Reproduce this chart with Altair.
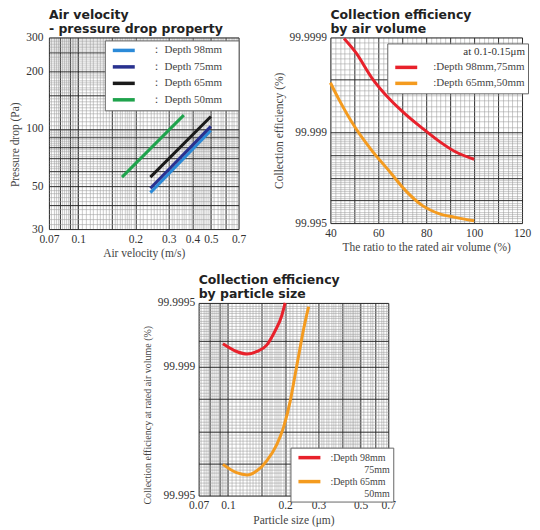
import altair as alt
import pandas as pd

# ---------------- data ----------------
# Chart 1: Air velocity - pressure drop
c1_names = ["Depth 98mm", "Depth 75mm", "Depth 65mm", "Depth 50mm"]
c1_colors = ["#2b8ad8", "#28318f", "#1a1a1a", "#1fa34c"]
c1_vel_98 = [0.24, 0.50]
c1_dp_98 = [46.5, 98]
c1_vel_75 = [0.24, 0.50]
c1_dp_75 = [49, 103]
c1_vel_65 = [0.24, 0.50]
c1_dp_65 = [56, 116]
c1_vel_50 = [0.17, 0.36]
c1_dp_50 = [56, 118]

# Chart 2: Collection efficiency by air volume (at 0.1-0.15 um)
c2_names = ["Depth 98mm,75mm", "Depth 65mm,50mm"]
c2_colors = ["#e8212b", "#f49b1f"]
c2_ratio_a = [45.7, 50.5, 57.5, 64.5, 71.4, 78.3, 85.3, 92.2, 100]
c2_eff_a = [99.99989, 99.99976, 99.99951, 99.99932, 99.99917, 99.99904, 99.99861, 99.99814, 99.99781]
c2_ratio_b = [40, 43.6, 50.5, 57.5, 64.5, 71.4, 78.3, 85.3, 92.2, 100]
c2_eff_b = [99.99947, 99.99931, 99.99904, 99.99817, 99.99730, 99.99643, 99.99578, 99.99542, 99.99525, 99.99510]

# Chart 3: Collection efficiency by particle size
c3_names = ["Depth 98mm|75mm", "Depth 65mm|50mm"]
c3_colors = ["#e8212b", "#f49b1f"]
c3_size_a = [0.094, 0.111, 0.126, 0.142, 0.160, 0.177, 0.192, 0.200]
c3_eff_a = [99.99918, 99.99912, 99.99910, 99.99912, 99.99917, 99.99928, 99.99940, 99.99950]
c3_size_b = [0.094, 0.111, 0.126, 0.142, 0.160, 0.181, 0.196, 0.213, 0.226, 0.238, 0.250, 0.266]
c3_eff_b = [99.99597, 99.99571, 99.99564, 99.99577, 99.99608, 99.99659, 99.99711, 99.99794,
            99.99876, 99.99912, 99.99929, 99.99947]

# tick labels
log_x_labels_1 = [0.07, 0.1, 0.2, 0.3, 0.4, 0.5, 0.7]
log_x_labels_3 = [0.07, 0.1, 0.2, 0.3, 0.5, 0.7]
dp_labels = [30, 50, 100, 200, 300]
ratio_labels = [40, 60, 80, 100, 120]
eff2_labels = [99.995, 99.999, 99.9999]
eff3_labels = [99.995, 99.999, 99.9995]

SERIF = "Liberation Serif"


def steps(a, b, s, nd):
    out = []
    k = 0
    while True:
        v = round(a + k * s, nd)
        if v > b + s / 10:
            break
        out.append(v)
        k += 1
    return out


def uniq(vals):
    return sorted(set(vals))


def js(vals):
    return "[" + ",".join(repr(v) for v in vals) + "]"


def grid_axis(values, majors, labels, fmt, title, title_size=11.5, **kw):
    return alt.Axis(
        values=values,
        title=title,
        ticks=False,
        tickSize=0,
        domain=False,
        labelOverlap=False,
        labelFlush=False,
        format=fmt,
        labelExpr=f"indexof({js(labels)}, datum.value) >= 0 ? datum.label : ''",
        gridColor={"condition": {"test": f"indexof({js(majors)}, datum.value) >= 0", "value": "#2a2a2a"},
                   "value": "#9c9c9c"},
        gridWidth={"condition": {"test": f"indexof({js(majors)}, datum.value) >= 0", "value": 1},
                   "value": 0.55},
        gridOpacity=1,
        labelFont=SERIF,
        labelFontSize=11.5,
        labelColor="#333",
        titleFont=SERIF,
        titleFontSize=title_size,
        titleFontWeight="normal",
        titleColor="#444",
        **kw,
    )


# grid values
logx_grid = uniq(steps(0.07, 0.1, 0.002, 4) + steps(0.1, 0.2, 0.005, 4) + steps(0.2, 0.5, 0.01, 4)
                 + steps(0.5, 0.7, 0.02, 4))
logx_major = [0.07, 0.08, 0.09, 0.1, 0.15, 0.2, 0.3, 0.4, 0.5, 0.6, 0.7]
dp_grid = uniq(steps(30, 100, 2, 2) + steps(100, 300, 5, 2))
dp_major = [30, 40, 50, 60, 70, 80, 90, 100, 150, 200, 250, 300]
ratio_grid = steps(40, 120, 2, 2)
ratio_major = [40, 50, 60, 70, 80, 90, 100, 110, 120]
eff2_grid = uniq(steps(99.995, 99.999, 0.0001, 5) + steps(99.999, 99.9999, 0.00005, 6))
eff2_major = [99.995, 99.996, 99.997, 99.998, 99.999, 99.9995, 99.9999]
eff3_grid = uniq(steps(99.995, 99.999, 0.0001, 5) + steps(99.999, 99.9995, 0.00002, 6))
eff3_major = [99.995, 99.996, 99.997, 99.998, 99.999, 99.9992, 99.9995]

# ---------------- tables ----------------
df1 = pd.concat([
    pd.DataFrame({"v": c1_vel_98, "dp": c1_dp_98, "s": c1_names[0]}),
    pd.DataFrame({"v": c1_vel_75, "dp": c1_dp_75, "s": c1_names[1]}),
    pd.DataFrame({"v": c1_vel_65, "dp": c1_dp_65, "s": c1_names[2]}),
    pd.DataFrame({"v": c1_vel_50, "dp": c1_dp_50, "s": c1_names[3]}),
])
df2 = pd.concat([
    pd.DataFrame({"r": c2_ratio_a, "e": c2_eff_a, "s": c2_names[0]}),
    pd.DataFrame({"r": c2_ratio_b, "e": c2_eff_b, "s": c2_names[1]}),
])
df3 = pd.concat([
    pd.DataFrame({"p": c3_size_a, "e": c3_eff_a, "s": c3_names[0]}),
    pd.DataFrame({"p": c3_size_b, "e": c3_eff_b, "s": c3_names[1]}),
])

title_style = dict(font="DejaVu Sans", fontSize=12.5, fontWeight="bold", color="#222",
                   anchor="start", frame="group", lineHeight=14, offset=-4)


def legend_style(label_size=11, label_offset=20):
    return dict(orient="none", symbolType="M-2.2,0L2.2,0", symbolStrokeWidth=3.5, symbolSize=100,
                symbolOffset=9, labelOffset=label_offset,
                labelFont=SERIF, labelFontSize=label_size, labelColor="#444", fillColor="white",
                strokeColor="#666", padding=3, titleFont=SERIF, titleFontSize=11,
                titleFontWeight="normal", titleColor="#333")


EM = "\u2003"
THIN = "\u2009"
ZW = "\u200b"

c1 = alt.Chart(df1).mark_line(strokeWidth=3).encode(
    x=alt.X("v:Q", scale=alt.Scale(type="log", domain=[0.07, 0.7], nice=False),
            axis=grid_axis(logx_grid, logx_major, log_x_labels_1, "~g", "Air velocity (m/s)",
                           labelPadding=4, titlePadding=3)),
    y=alt.Y("dp:Q", scale=alt.Scale(type="log", domain=[30, 300], nice=False),
            axis=grid_axis(dp_grid, dp_major, dp_labels, "~g", "Pressure drop (Pa)",
                           labelPadding=6, titlePadding=5, titleY=107)),
    color=alt.Color("s:N", sort=c1_names, scale=alt.Scale(domain=c1_names, range=c1_colors),
                    legend=alt.Legend(title=None, legendX=56, legendY=3, rowPadding=2.5,
                                      labelExpr=f"'\uff1a Depth ' + replace(datum.label, 'Depth ', '') + '{EM}{THIN}{ZW}'",
                                      **legend_style())),
).properties(width=190, height=192,
             title=alt.Title(["Air velocity", "- pressure drop property"], **title_style))

c2 = alt.Chart(df2).mark_line(strokeWidth=3, interpolate="monotone").encode(
    x=alt.X("r:Q", scale=alt.Scale(domain=[40, 120], nice=False, zero=False),
            axis=grid_axis(ratio_grid, ratio_major, ratio_labels, "~g",
                           "The ratio to the rated air volume (%)", labelPadding=4, titlePadding=3)),
    y=alt.Y("e:Q", scale=alt.Scale(domain=[99.995, 99.999, 99.9999], range=[186, 95, 0], zero=False, nice=False),
            axis=grid_axis(eff2_grid, eff2_major, eff2_labels, ".4~f", "Collection efficiency (%)",
                           labelPadding=4, titlePadding=5)),
    color=alt.Color("s:N", sort=c2_names, scale=alt.Scale(domain=c2_names, range=c2_colors),
                    legend=alt.Legend(title="at 0.1-0.15\u03bcm", titleAnchor="end", titlePadding=3,
                                      legendX=57, legendY=6, rowPadding=2,
                                      labelExpr="':' + datum.label",
                                      **legend_style())),
).properties(width=192, height=186,
             title=alt.Title(["Collection efficiency", "by air volume"], **title_style))

c3 = alt.Chart(df3).mark_line(strokeWidth=3, interpolate="monotone").encode(
    x=alt.X("p:Q", scale=alt.Scale(type="log", domain=[0.07, 0.7], nice=False),
            axis=grid_axis(logx_grid, logx_major, log_x_labels_3, "~g", "Particle size (\u03bcm)",
                           labelPadding=4, titlePadding=3)),
    y=alt.Y("e:Q", scale=alt.Scale(domain=[99.995, 99.999, 99.9995], range=[193, 64, 0], zero=False, nice=False),
            axis=grid_axis(eff3_grid, eff3_major, eff3_labels, ".4~f",
                           "Collection efficiency at rated air volume (%)", title_size=10,
                           labelPadding=4, titlePadding=5, titleY=112)),
    color=alt.Color("s:N", sort=c3_names, scale=alt.Scale(domain=c3_names, range=c3_colors),
                    legend=alt.Legend(title=None, legendX=92, legendY=145, rowPadding=0,
                                      labelExpr="[':' + split(datum.label, '|')[0], '" + ZW
                                                + EM * 3 + THIN * 2 + "' + split(datum.label, '|')[1]]",
                                      **legend_style(10, 14))),
).properties(width=190, height=193,
             title=alt.Title(["Collection efficiency", "by particle size"], **title_style))

spacer = alt.Chart(pd.DataFrame({"a": [0]})).mark_point(opacity=0).encode(
    x=alt.X("a:Q", axis=None), y=alt.Y("a:Q", axis=None)
).properties(width=92, height=10, view=alt.ViewBackground(stroke="transparent"))

top = alt.hconcat(c1, c2, spacing=26).resolve_scale(color="independent")
bottom = alt.hconcat(spacer, c3, spacing=0).resolve_scale(color="independent")

chart = alt.vconcat(top, bottom, spacing=14).resolve_scale(
    color="independent"
).properties(padding={"left": 1, "top": 0, "right": 0, "bottom": 0}).configure_view(
    stroke="#111", strokeWidth=1.5
).configure(background="white")

chart.save("out.html", embed_options={"renderer": "svg", "actions": False})
